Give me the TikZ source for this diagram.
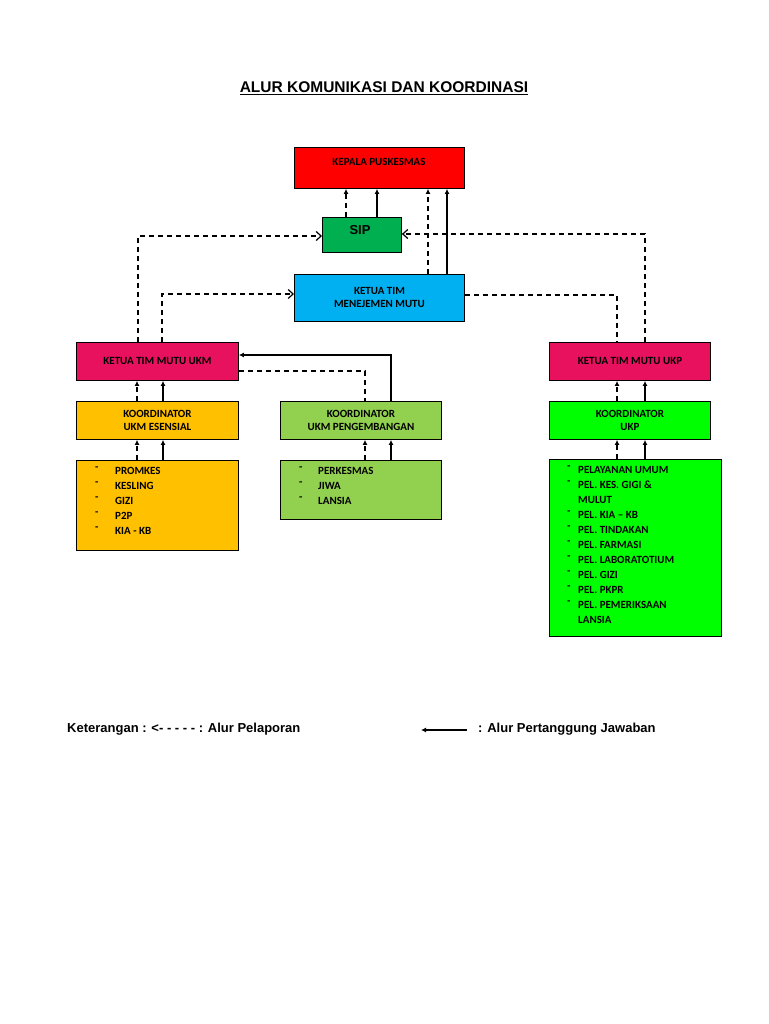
\documentclass[tikz,border=0pt]{standalone}
\usepackage{fontspec}
\setmainfont{Carlito}
\newfontfamily\arialf{Liberation Sans}
\usetikzlibrary{arrows.meta}
\definecolor{cred}{HTML}{FF0000}
\definecolor{csip}{HTML}{00B050}
\definecolor{cblue}{HTML}{00B0F0}
\definecolor{cpink}{HTML}{E8115E}
\definecolor{corange}{HTML}{FFC000}
\definecolor{clgreen}{HTML}{92D050}
\definecolor{cgreen}{HTML}{00FF00}
\begin{document}
\begin{tikzpicture}[x=1pt,y=-1pt,
  box/.style={draw=black,line width=0.9pt,inner sep=0pt,font=\bfseries\fontsize{11}{13}\selectfont,align=center},
  dsh/.style={line width=1.2pt,dash pattern=on 5pt off 4pt},
  sol/.style={line width=1.2pt},
  tip/.style={-{Latex[length=5pt,width=5pt]}},
  otip/.style={-{Straight Barb[length=5pt,width=9pt]}},
  lst/.style={font=\bfseries\fontsize{11}{15}\selectfont,anchor=north west,align=left,inner sep=0pt}]
\useasboundingbox (0,0) rectangle (768,1024);
\node[font=\arialf\bfseries\fontsize{15.5}{18}\selectfont] (title) at (384,88) {\underline{ALUR KOMUNIKASI DAN KOORDINASI}};
% boxes
\node[box,fill=cred,minimum width=170,minimum height=41,anchor=north west] (kp) at (294,147) {};
\node[font=\bfseries\fontsize{11}{13}\selectfont] at (379,162) {KEPALA PUSKESMAS};
\node[box,fill=csip,minimum width=79,minimum height=35,anchor=north west] (sip) at (322,217) {};
\node[font=\arialf\bfseries\fontsize{13}{15}\selectfont] at (360,230) {SIP};
\node[box,fill=cblue,minimum width=170,minimum height=47,anchor=north west] (mm) at (294,274) {KETUA TIM\\MENEJEMEN MUTU};
\node[box,fill=cpink,minimum width=162,minimum height=38,anchor=north west] (ukm) at (76,342) {KETUA TIM MUTU UKM};
\node[box,fill=cpink,minimum width=161,minimum height=38,anchor=north west] (ukp) at (549,342) {KETUA TIM MUTU UKP};
\node[box,fill=corange,minimum width=162,minimum height=38,anchor=north west] (kes) at (76,401) {KOORDINATOR\\UKM ESENSIAL};
\node[box,fill=clgreen,minimum width=161,minimum height=38,anchor=north west] (kpg) at (280,401) {KOORDINATOR\\UKM PENGEMBANGAN};
\node[box,fill=cgreen,minimum width=161,minimum height=38,anchor=north west] (kukp) at (549,401) {KOORDINATOR\\UKP};
\node[box,fill=corange,minimum width=162,minimum height=90,anchor=north west] (les) at (76,460) {};
\node[box,fill=clgreen,minimum width=161,minimum height=59,anchor=north west] (lpg) at (280,460) {};
\node[box,fill=cgreen,minimum width=172,minimum height=177,anchor=north west] (lukp) at (549,459) {};
% lists
\node[lst] (l1d) at (95,467) {-\\-\\-\\-\\-};
\node[lst] (l1) at (115,467) {PROMKES\\KESLING\\GIZI\\P2P\\KIA - KB};
\node[lst] (l2d) at (299,467) {-\\-\\-};
\node[lst] (l2) at (318,467) {PERKESMAS\\JIWA\\LANSIA};
\node[lst] (l3d) at (567,466) {-\\-\\\\-\\-\\-\\-\\-\\-\\-};
\node[lst] (l3) at (578,466) {PELAYANAN UMUM\\PEL. KES. GIGI \&\\MULUT\\PEL. KIA -- KB\\PEL. TINDAKAN\\PEL. FARMASI\\PEL. LABORATOTIUM\\PEL. GIZI\\PEL. PKPR\\PEL. PEMERIKSAAN\\LANSIA};
% connectors to Kepala
\draw[dsh,tip] (sip.north -| 346,0) -- (kp.south -| 346,0);
\draw[sol,tip] (sip.north -| 377,0) -- (kp.south -| 377,0);
\draw[dsh,tip] (mm.north -| 428,0) -- (kp.south -| 428,0);
\draw[sol,tip] (mm.north -| 447,0) -- (kp.south -| 447,0);
% to SIP
\draw[dsh,otip] (ukm.north -| 138,0) |- (sip.west |- 0,236);
\draw[dsh,otip] (ukp.north -| 645,0) |- (sip.east |- 0,234);
% to MM
\draw[dsh,otip] (ukm.north -| 162,0) |- (mm.west |- 0,294);
\draw[dsh] (mm.east |- 0,295) -| (ukp.north -| 617,0);
% Peng <-> UKM
\draw[sol,tip] (kpg.north -| 391,0) |- (ukm.east |- 0,355);
\draw[dsh] (ukm.east |- 0,371) -| (kpg.north -| 365,0);
% vertical pairs
\draw[dsh,tip] (kes.north -| 137,0) -- (ukm.south -| 137,0);
\draw[sol,tip] (kes.north -| 163,0) -- (ukm.south -| 163,0);
\draw[dsh,tip] (les.north -| 137,0) -- (kes.south -| 137,0);
\draw[sol,tip] (les.north -| 163,0) -- (kes.south -| 163,0);
\draw[dsh,tip] (lpg.north -| 365,0) -- (kpg.south -| 365,0);
\draw[sol,tip] (lpg.north -| 391,0) -- (kpg.south -| 391,0);
\draw[dsh,tip] (kukp.north -| 617,0) -- (ukp.south -| 617,0);
\draw[sol,tip] (kukp.north -| 645,0) -- (ukp.south -| 645,0);
\draw[dsh,tip] (lukp.north -| 617,0) -- (kukp.south -| 617,0);
\draw[sol,tip] (lukp.north -| 645,0) -- (kukp.south -| 645,0);
% legend
\node[font=\arialf\bfseries\fontsize{13}{15}\selectfont,anchor=west,inner sep=0pt] (leg1) at (67,729) {Keterangan : <- - - - - : Alur Pelaporan};
\coordinate (la) at (467,730);
\coordinate (lb) at (421,730);
\draw[sol,tip] (la) -- (lb);
\node[font=\arialf\bfseries\fontsize{13}{15}\selectfont,anchor=west,inner sep=0pt] (leg2) at (478,729) {: Alur Pertanggung Jawaban};
\end{tikzpicture}
\end{document}
